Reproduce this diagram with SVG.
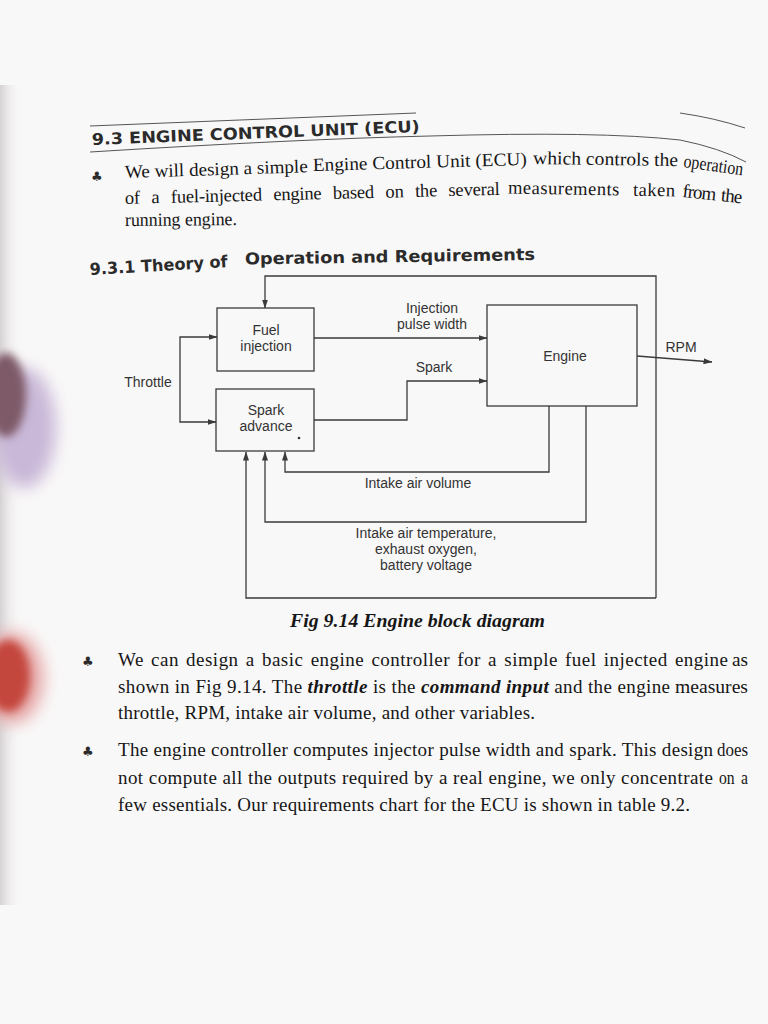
<svg xmlns="http://www.w3.org/2000/svg" width="768" height="1024" viewBox="0 0 768 1024">
<defs>
<style>
.body{font-family:"Liberation Serif","Times New Roman",serif;font-size:19px;fill:#161616}
.top{font-size:18.5px}
.head{font-family:"DejaVu Sans",Verdana,sans-serif;font-weight:bold;fill:#2b2b2b}
.lbl{font-family:"Liberation Sans",Arial,sans-serif;font-size:14px;fill:#333;text-anchor:middle}
.box{fill:none;stroke:#3a3a3a;stroke-width:1.3}
.wire{fill:none;stroke:#3a3a3a;stroke-width:1.3}
.rule{fill:none;stroke:#555;stroke-width:1}
.bul{font-family:"DejaVu Sans",sans-serif;font-size:13px;fill:#2a2a2a}
</style>
<marker id="ah" markerWidth="9" markerHeight="6" refX="8.5" refY="3" orient="auto" markerUnits="userSpaceOnUse">
<path d="M0,0 L9,3 L0,6 z" fill="#3a3a3a"/>
</marker>
<filter id="blur8" x="-100%" y="-100%" width="300%" height="300%"><feGaussianBlur stdDeviation="8"/></filter>
<filter id="blur4" x="-100%" y="-100%" width="300%" height="300%"><feGaussianBlur stdDeviation="4"/></filter>
<linearGradient id="edge" x1="0" y1="0" x2="1" y2="0">
<stop offset="0" stop-color="#d6d2d4"/>
<stop offset="1" stop-color="#f8f7f7" stop-opacity="0"/>
</linearGradient>
</defs>
<rect x="0" y="0" width="768" height="1024" fill="#f9f8f8"/>
<rect x="0" y="85" width="22" height="820" fill="url(#edge)"/>
<g id="finger1">
<ellipse cx="24" cy="428" rx="32" ry="60" fill="#c9b8d8" filter="url(#blur8)"/>
<ellipse cx="6" cy="395" rx="20" ry="42" fill="#7e5a68" filter="url(#blur4)"/>
</g>
<g id="finger2">
<ellipse cx="12" cy="678" rx="32" ry="46" fill="#e6a8a8" filter="url(#blur8)"/>
<ellipse cx="8" cy="676" rx="22" ry="36" fill="#c4463c" filter="url(#blur4)"/>
</g>

<g id="title">
<path class="rule" d="M90,126 L416,113"/>
<path class="rule" d="M90,152 Q300,139 430,136 Q600,131 680,140 Q720,148 746,162"/>
<path class="rule" d="M680,113 Q715,118 745,128"/>
<text class="head" x="92" y="145" font-size="16" textLength="328" lengthAdjust="spacingAndGlyphs" transform="rotate(-2.3 92 145)">9.3 ENGINE CONTROL UNIT (ECU)</text>
</g>

<g id="para1">
<text class="bul" x="91" y="181">♣</text>
<text class="body top" x="125" y="178" textLength="183" lengthAdjust="spacingAndGlyphs" transform="rotate(-1.8 125 178)">We will design a simple</text>
<text class="body top" x="313" y="171" textLength="214" lengthAdjust="spacingAndGlyphs" transform="rotate(-1.6 313 171)">Engine Control Unit (ECU)</text>
<text class="body top" x="533" y="164" textLength="145" lengthAdjust="spacingAndGlyphs" transform="rotate(0.8 533 164)">which controls the</text>
<text class="body" x="683" y="167" font-size="15" textLength="60" lengthAdjust="spacingAndGlyphs" transform="rotate(8 683 167)">operation</text>
<text class="body top" x="125" y="204" word-spacing="7" textLength="375" lengthAdjust="spacing" transform="rotate(-1.4 125 204)">of a fuel-injected engine based on the several</text>
<text class="body top" x="508" y="193.5" word-spacing="8" textLength="167" lengthAdjust="spacing" transform="rotate(1 508 193.5)">measurements taken</text>
<text class="body" x="682" y="197" font-size="17" word-spacing="2" textLength="60" lengthAdjust="spacing" transform="rotate(6 682 197)">from the</text>
<text class="body top" x="125" y="226" textLength="112" lengthAdjust="spacingAndGlyphs" transform="rotate(-0.5 125 226)">running engine.</text>
</g>

<g id="subhead">
<text class="head" x="90" y="275" font-size="16.5" textLength="138" lengthAdjust="spacingAndGlyphs" transform="rotate(-3.3 90 275)">9.3.1  Theory of</text>
<text class="head" x="245" y="264.5" font-size="16.5" textLength="290" lengthAdjust="spacingAndGlyphs" transform="rotate(-0.9 245 264.5)">Operation and Requirements</text>
</g>

<g id="connectors">
<path class="wire" d="M656,598 V276 H265 V308" marker-end="url(#ah)"/>
<path class="wire" d="M656,598 H246 V452" marker-end="url(#ah)"/>
<path class="wire" d="M549,406 V472 H285 V452" marker-end="url(#ah)"/>
<path class="wire" d="M586,406 V522 H265 V452" marker-end="url(#ah)"/>
<path class="wire" d="M180,380 V337 H217" marker-end="url(#ah)"/>
<path class="wire" d="M180,380 V422 H216" marker-end="url(#ah)"/>
<path class="wire" d="M314,338 H487" marker-end="url(#ah)"/>
<path class="wire" d="M314,420 H407 V381 H487" marker-end="url(#ah)"/>
<path class="wire" d="M637,356 L712,362" marker-end="url(#ah)"/>
<text class="lbl" x="432" y="313">Injection</text>
<text class="lbl" x="432" y="329">pulse width</text>
<text class="lbl" x="434" y="372">Spark</text>
<text class="lbl" x="681" y="352">RPM</text>
<text class="lbl" x="148" y="387">Throttle</text>
<text class="lbl" x="418" y="488">Intake air volume</text>
<text class="lbl" x="426" y="538">Intake air temperature,</text>
<text class="lbl" x="426" y="554">exhaust oxygen,</text>
<text class="lbl" x="426" y="570">battery voltage</text>
</g>

<g id="fuel-injection">
<rect class="box" x="217" y="308" width="97" height="63"/>
<text class="lbl" x="266" y="335">Fuel</text>
<text class="lbl" x="266" y="351">injection</text>
</g>
<g id="spark-advance">
<rect class="box" x="216" y="389" width="98" height="62"/>
<text class="lbl" x="266" y="415">Spark</text>
<text class="lbl" x="266" y="431">advance</text>
<circle cx="299" cy="438" r="1.3" fill="#333"/>
</g>
<g id="engine">
<rect class="box" x="487" y="305" width="150" height="101"/>
<text class="lbl" x="565" y="361">Engine</text>
</g>

<text class="body" x="290" y="627" font-weight="bold" font-style="italic" font-size="17.5" textLength="255" lengthAdjust="spacingAndGlyphs">Fig 9.14 Engine block diagram</text>

<g id="para2">
<text class="bul" x="82" y="666">♣</text>
<text class="body" x="118" y="666" word-spacing="2" textLength="610" lengthAdjust="spacing">We can design a basic engine controller for a simple fuel injected engine</text>
<text class="body" x="732" y="666" font-size="15.5" textLength="16" lengthAdjust="spacingAndGlyphs">as</text>
<text class="body" x="118" y="693" textLength="552" lengthAdjust="spacing">shown in Fig 9.14. The <tspan font-weight="bold" font-style="italic">throttle</tspan> is the <tspan font-weight="bold" font-style="italic">command input</tspan> and the engine</text>
<text class="body" x="675" y="693" font-size="16" textLength="73" lengthAdjust="spacingAndGlyphs">measures</text>
<text class="body" x="118" y="719" textLength="417" lengthAdjust="spacing">throttle,  RPM, intake air volume, and other variables.</text>
</g>
<g id="para3">
<text class="bul" x="82" y="756">♣</text>
<text class="body" x="118" y="756" textLength="595" lengthAdjust="spacing">The engine controller computes injector pulse width and spark. This design</text>
<text class="body" x="717" y="756" font-size="16" textLength="31" lengthAdjust="spacingAndGlyphs">does</text>
<text class="body" x="118" y="784" textLength="595" lengthAdjust="spacing">not compute all the outputs required by a real engine, we only concentrate</text>
<text class="body" x="719" y="784" font-size="15" word-spacing="3" textLength="29" lengthAdjust="spacingAndGlyphs">on a</text>
<text class="body" x="118" y="811" textLength="572" lengthAdjust="spacing">few essentials. Our requirements chart for the ECU is shown in table 9.2.</text>
</g>
</svg>
